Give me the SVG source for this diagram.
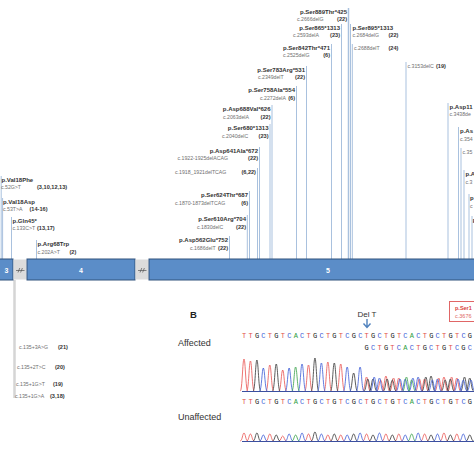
<svg xmlns="http://www.w3.org/2000/svg" width="474" height="474" viewBox="0 0 474 474">
<style>
.p{font:bold 6px "Liberation Sans",Arial,sans-serif;fill:#333}
.c{font:5.2px "Liberation Sans",Arial,sans-serif;fill:#707070}
.r{font:bold 5.6px "Liberation Sans",Arial,sans-serif;fill:#333}
.e{text-anchor:end}
.ln line{stroke:#a9c1de;stroke-width:1}
.ex{fill:#5b8dc8;stroke:#30527c;stroke-width:1}
.gap{fill:#dcdcdc}
.en{font:bold 7px "Liberation Sans",Arial,sans-serif;fill:#fff;text-anchor:middle}
.brk{stroke:#555;stroke-width:0.7;fill:none}
.seq{font:7px "Liberation Mono",monospace;letter-spacing:2.25px}
.sT{fill:#e2504a}.sG{fill:#222}.sC{fill:#3b5bd6}.sA{fill:#2e9e3e}
.pk path{fill:none;stroke-width:0.8}
.kT{stroke:#e8524f}.kG{stroke:#333}.kC{stroke:#3b5bd6}.kA{stroke:#36a046}
.lab{font:9px "Liberation Sans",Arial,sans-serif;fill:#333}
.red{fill:#d9413a}
</style>
<rect width="474" height="474" fill="#fff"/>

<g id="connectors" class="ln">
<line x1="1.2" y1="176" x2="1.2" y2="259"/>
<line x1="2.6" y1="198" x2="2.6" y2="259"/>
<line x1="11.5" y1="217" x2="11.5" y2="259"/>
<line x1="36.5" y1="240" x2="36.5" y2="259"/>
<line x1="229.5" y1="236" x2="229.5" y2="259"/>
<line x1="247.3" y1="215" x2="247.3" y2="259"/>
<line x1="249.5" y1="191" x2="249.5" y2="259"/>
<line x1="257.5" y1="168" x2="257.5" y2="259"/>
<line x1="259.5" y1="147" x2="259.5" y2="259"/>
<line x1="270" y1="124" x2="270" y2="259"/>
<line x1="272" y1="105" x2="272" y2="259"/>
<line x1="296.5" y1="86" x2="296.5" y2="259"/>
<line x1="306.5" y1="66" x2="306.5" y2="259"/>
<line x1="331.5" y1="44" x2="331.5" y2="259"/>
<line x1="341.5" y1="24" x2="341.5" y2="259"/>
<line x1="348.5" y1="8" x2="348.5" y2="259" style="stroke-width:1.5"/>
<line x1="350.5" y1="24" x2="350.5" y2="259"/>
<line x1="352.3" y1="44" x2="352.3" y2="259"/>
<line x1="406" y1="62" x2="406" y2="259"/>
<line x1="448" y1="103" x2="448" y2="259"/>
<line x1="458.5" y1="127" x2="458.5" y2="259"/>
<line x1="461" y1="148" x2="461" y2="259"/>
<line x1="464" y1="170" x2="464" y2="259"/>
<line x1="469" y1="194" x2="469" y2="259"/>
<line x1="472" y1="216" x2="472" y2="259"/>
<line x1="14.5" y1="280" x2="14.5" y2="398" style="stroke:#d5d5d5;stroke-width:2.5"/>
</g>

<g id="exon3"><rect class="ex" x="-1" y="259" width="14" height="21"/><text class="en" x="6.5" y="272.5">3</text></g>
<g id="gap34"><rect class="gap" x="13.5" y="259.5" width="13" height="20"/><path class="brk" d="M16 270.5H24.5M18 272.5L19.8 268M20.6 272.5L22.4 268"/></g>
<g id="exon4"><rect class="ex" x="27" y="259" width="108" height="21"/><text class="en" x="81" y="272.5">4</text></g>
<g id="gap45"><rect class="gap" x="135.5" y="259.5" width="13" height="20"/><path class="brk" d="M138 270.5H146.5M140 272.5L141.8 268M142.6 272.5L144.4 268"/></g>
<g id="exon5"><rect class="ex" x="149" y="259" width="330" height="21"/><text class="en" x="328" y="272.5">5</text></g>

<g id="m-val18phe"><text class="p" x="1.5" y="182">p.Val18Phe</text><text class="c" x="1" y="189">c.52G&gt;T</text><text class="r" x="37" y="189">(3,10,12,13)</text></g>
<g id="m-val18asp"><text class="p" x="3" y="204">p.Val18Asp</text><text class="c" x="3" y="211">c.53T&gt;A</text><text class="r" x="29.5" y="211">(14-16)</text></g>
<g id="m-gln45"><text class="p" x="12.5" y="223">p.Gln45*</text><text class="c" x="12.5" y="230">c.133C&gt;T</text><text class="r" x="37" y="230">(13,17)</text></g>
<g id="m-arg68trp"><text class="p" x="37.5" y="246">p.Arg68Trp</text><text class="c" x="37.5" y="253.5">c.202A&gt;T</text><text class="r" x="69.5" y="253.5">(2)</text></g>

<g id="m-splice1"><text class="c" x="19" y="349">c.135+3A&gt;G</text><text class="r" x="58" y="349">(21)</text></g>
<g id="m-splice2"><text class="c" x="17" y="369">c.135+2T&gt;C</text><text class="r" x="55" y="369">(20)</text></g>
<g id="m-splice3"><text class="c" x="16" y="386">c.135+1G&gt;T</text><text class="r" x="53" y="386">(19)</text></g>
<g id="m-splice4"><text class="c" x="15" y="398">c.135+1G&gt;A</text><text class="r" x="50" y="398">(3,18)</text></g>

<g id="m-ser889"><text class="p e" x="347" y="14">p.Ser889Thr*425</text><text class="c" x="297" y="21">c.2666delG</text><text class="r e" x="347" y="21">(22)</text></g>
<g id="m-ser865"><text class="p e" x="340" y="30">p.Ser865*1313</text><text class="c" x="293" y="37">c.2593delA</text><text class="r e" x="340" y="37">(23)</text></g>
<g id="m-ser895"><text class="p" x="352.5" y="30">p.Ser895*1313</text><text class="c" x="352.5" y="37">c.2684delG</text><text class="r" x="388.5" y="37">(22)</text></g>
<g id="m-2688"><text class="c" x="354" y="50">c.2688delT</text><text class="r" x="388.5" y="50">(24)</text></g>
<g id="m-ser842"><text class="p e" x="330" y="50">p.Ser842Thr*471</text><text class="c" x="283" y="57">c.2525delG</text><text class="r e" x="330" y="57">(6)</text></g>
<g id="m-3153"><text class="c" x="407.5" y="68">c.3153delC</text><text class="r" x="436" y="68">(19)</text></g>
<g id="m-ser783"><text class="p e" x="305" y="72">p.Ser783Arg*531</text><text class="c" x="258" y="79">c.2349delT</text><text class="r e" x="305" y="79">(22)</text></g>
<g id="m-ser758"><text class="p e" x="295" y="92">p.Ser758Ala*554</text><text class="c" x="260" y="100">c.2272delA</text><text class="r e" x="295" y="100">(6)</text></g>
<g id="m-asp688"><text class="p e" x="270.5" y="111">p.Asp688Val*626</text><text class="c" x="223" y="119">c.2063delA</text><text class="r e" x="270.5" y="119">(22)</text></g>
<g id="m-ser680"><text class="p e" x="268.5" y="130">p.Ser680*1313</text><text class="c" x="222" y="138">c.2040delC</text><text class="r e" x="268.5" y="138">(23)</text></g>
<g id="m-asp641"><text class="p e" x="258" y="153">p.Asp641Ala*672</text><text class="c" x="177.5" y="160">c.1922-1925delACAG</text><text class="r e" x="258" y="160">(22)</text></g>
<g id="m-1918"><text class="c" x="175" y="174">c.1918_1921delTCAG</text><text class="r e" x="256" y="174">(6,22)</text></g>
<g id="m-ser624"><text class="p e" x="248" y="197">p.Ser624Thr*687</text><text class="c" x="175" y="205">c.1870-1873delTCAG</text><text class="r e" x="248" y="205">(6)</text></g>
<g id="m-ser610"><text class="p e" x="246" y="221">p.Ser610Arg*704</text><text class="c" x="197" y="229">c.1830delC</text><text class="r e" x="246" y="229">(22)</text></g>
<g id="m-asp562"><text class="p e" x="228" y="242">p.Asp562Glu*752</text><text class="c" x="190" y="250">c.1686delT</text><text class="r e" x="228" y="250">(22)</text></g>

<g id="m-r1"><text class="p" x="449.5" y="109">p.Asp11</text><text class="c" x="449.5" y="116">c.3438de</text></g>
<g id="m-r2"><text class="p" x="460" y="133">p.As</text><text class="c" x="460" y="141">c.354</text></g>
<g id="m-r3"><text class="c" x="462.5" y="154">c.35</text></g>
<g id="m-r4"><text class="p" x="465.5" y="176">p.A</text><text class="c" x="465.5" y="184">c.3</text></g>
<g id="m-r5"><text class="p" x="470" y="200">p</text><text class="c" x="470" y="208">c</text></g>
<g id="m-r6"><text class="p" x="472.8" y="222">p</text></g>

<g id="panelB">
<text x="190" y="318" style="font:bold 9.5px 'Liberation Sans',Arial,sans-serif;fill:#222">B</text>
<text class="lab" x="178" y="345.5">Affected</text>
<text class="lab" x="178" y="420">Unaffected</text>
</g>

<g id="delT">
<text x="367" y="316.5" text-anchor="middle" style="font:8px 'Liberation Sans',Arial,sans-serif;fill:#333">Del T</text>
<path d="M367 319V327.5M363.5 323.5L367 327.5L370.5 323.5" fill="none" stroke="#4f81bd" stroke-width="1.4"/>
</g>

<g id="mutbox">
<rect x="449.5" y="301.5" width="30" height="20" fill="#fff" stroke="#e06666" stroke-width="1"/>
<text x="455" y="310" style="font:bold 5.5px 'Liberation Sans',Arial,sans-serif" class="red">p.Ser1</text>
<text x="455" y="317.5" style="font:5.5px 'Liberation Sans',Arial,sans-serif;fill:#e06666">c.3676</text>
</g>

<g id="seq-affected-1"><text class="seq" x="242" y="338"><tspan class="sT">T</tspan><tspan class="sT">T</tspan><tspan class="sG">G</tspan><tspan class="sC">C</tspan><tspan class="sT">T</tspan><tspan class="sG">G</tspan><tspan class="sT">T</tspan><tspan class="sC">C</tspan><tspan class="sA">A</tspan><tspan class="sC">C</tspan><tspan class="sT">T</tspan><tspan class="sG">G</tspan><tspan class="sC">C</tspan><tspan class="sT">T</tspan><tspan class="sG">G</tspan><tspan class="sT">T</tspan><tspan class="sC">C</tspan><tspan class="sG">G</tspan><tspan class="sC">C</tspan><tspan class="sT">T</tspan><tspan class="sG">G</tspan><tspan class="sC">C</tspan><tspan class="sT">T</tspan><tspan class="sG">G</tspan><tspan class="sT">T</tspan><tspan class="sC">C</tspan><tspan class="sA">A</tspan><tspan class="sC">C</tspan><tspan class="sT">T</tspan><tspan class="sG">G</tspan><tspan class="sC">C</tspan><tspan class="sT">T</tspan><tspan class="sG">G</tspan><tspan class="sT">T</tspan><tspan class="sC">C</tspan><tspan class="sG">G</tspan></text></g>
<g id="seq-affected-2"><text class="seq" x="364.55" y="350"><tspan class="sG">G</tspan><tspan class="sC">C</tspan><tspan class="sT">T</tspan><tspan class="sG">G</tspan><tspan class="sT">T</tspan><tspan class="sC">C</tspan><tspan class="sA">A</tspan><tspan class="sC">C</tspan><tspan class="sT">T</tspan><tspan class="sG">G</tspan><tspan class="sC">C</tspan><tspan class="sT">T</tspan><tspan class="sG">G</tspan><tspan class="sT">T</tspan><tspan class="sC">C</tspan><tspan class="sG">G</tspan><tspan class="sC">C</tspan></text></g>
<g id="seq-unaffected"><text class="seq" x="242" y="404"><tspan class="sT">T</tspan><tspan class="sT">T</tspan><tspan class="sG">G</tspan><tspan class="sC">C</tspan><tspan class="sT">T</tspan><tspan class="sG">G</tspan><tspan class="sT">T</tspan><tspan class="sC">C</tspan><tspan class="sA">A</tspan><tspan class="sC">C</tspan><tspan class="sT">T</tspan><tspan class="sG">G</tspan><tspan class="sC">C</tspan><tspan class="sT">T</tspan><tspan class="sG">G</tspan><tspan class="sT">T</tspan><tspan class="sC">C</tspan><tspan class="sG">G</tspan><tspan class="sC">C</tspan><tspan class="sT">T</tspan><tspan class="sG">G</tspan><tspan class="sC">C</tspan><tspan class="sT">T</tspan><tspan class="sG">G</tspan><tspan class="sT">T</tspan><tspan class="sC">C</tspan><tspan class="sA">A</tspan><tspan class="sC">C</tspan><tspan class="sT">T</tspan><tspan class="sG">G</tspan><tspan class="sC">C</tspan><tspan class="sT">T</tspan><tspan class="sG">G</tspan><tspan class="sT">T</tspan><tspan class="sC">C</tspan><tspan class="sG">G</tspan></text></g>

<g id="chrom-affected" class="pk">
<path class="kT" d="M240.2 391c2.1 0 2.4-32 3.8-32s1.7 32 3.8 32M246.65 391c2.1 0 2.4-30 3.8-30s1.7 30 3.8 30M266 391c2.1 0 2.4-26 3.8-26s1.7 26 3.8 26M278.9 391c2.1 0 2.4-21 3.8-21s1.7 21 3.8 21M304.7 391c2.1 0 2.4-26 3.8-26s1.7 26 3.8 26M324.05 391c2.1 0 2.4-29 3.8-29s1.7 29 3.8 29M336.95 391c2.1 0 2.4-27 3.8-27s1.7 27 3.8 27M362.75 391c2.1 0 2.4-14 3.8-14s1.7 14 3.8 14M376.85 391c2.1 0 2.4-11 3.8-11s1.7 11 3.8 11M382.1 391c2.1 0 2.4-15 3.8-15s1.7 15 3.8 15M389.75 391c2.1 0 2.4-13 3.8-13s1.7 13 3.8 13M395 391c2.1 0 2.4-13 3.8-13s1.7 13 3.8 13M415.55 391c2.1 0 2.4-12 3.8-12s1.7 12 3.8 12M420.8 391c2.1 0 2.4-12 3.8-12s1.7 12 3.8 12M434.9 391c2.1 0 2.4-13 3.8-13s1.7 13 3.8 13M440.15 391c2.1 0 2.4-14 3.8-14s1.7 14 3.8 14M447.8 391c2.1 0 2.4-14 3.8-14s1.7 14 3.8 14M453.05 391c2.1 0 2.4-13 3.8-13s1.7 13 3.8 13"/>
<path class="kG" d="M253.1 391c2.1 0 2.4-31 3.8-31s1.7 31 3.8 31M272.45 391c2.1 0 2.4-27 3.8-27s1.7 27 3.8 27M311.15 391c2.1 0 2.4-33 3.8-33s1.7 33 3.8 33M330.5 391c2.1 0 2.4-28 3.8-28s1.7 28 3.8 28M349.85 391c2.1 0 2.4-18 3.8-18s1.7 18 3.8 18M363.95 391c2.1 0 2.4-12 3.8-12s1.7 12 3.8 12M369.2 391c2.1 0 2.4-12 3.8-12s1.7 12 3.8 12M383.3 391c2.1 0 2.4-12 3.8-12s1.7 12 3.8 12M388.55 391c2.1 0 2.4-11 3.8-11s1.7 11 3.8 11M422 391c2.1 0 2.4-14 3.8-14s1.7 14 3.8 14M427.25 391c2.1 0 2.4-15 3.8-15s1.7 15 3.8 15M441.35 391c2.1 0 2.4-11 3.8-11s1.7 11 3.8 11M446.6 391c2.1 0 2.4-12 3.8-12s1.7 12 3.8 12M460.7 391c2.1 0 2.4-14 3.8-14s1.7 14 3.8 14M465.95 391c2.1 0 2.4-13 3.8-13s1.7 13 3.8 13"/>
<path class="kC" d="M259.55 391c2.1 0 2.4-23 3.8-23s1.7 23 3.8 23M285.35 391c2.1 0 2.4-23 3.8-23s1.7 23 3.8 23M298.25 391c2.1 0 2.4-27 3.8-27s1.7 27 3.8 27M317.6 391c2.1 0 2.4-28 3.8-28s1.7 28 3.8 28M343.4 391c2.1 0 2.4-24 3.8-24s1.7 24 3.8 24M356.3 391c2.1 0 2.4-24 3.8-24s1.7 24 3.8 24M370.4 391c2.1 0 2.4-14 3.8-14s1.7 14 3.8 14M375.65 391c2.1 0 2.4-13 3.8-13s1.7 13 3.8 13M396.2 391c2.1 0 2.4-12 3.8-12s1.7 12 3.8 12M401.45 391c2.1 0 2.4-12 3.8-12s1.7 12 3.8 12M409.1 391c2.1 0 2.4-13 3.8-13s1.7 13 3.8 13M414.35 391c2.1 0 2.4-14 3.8-14s1.7 14 3.8 14M428.45 391c2.1 0 2.4-11 3.8-11s1.7 11 3.8 11M433.7 391c2.1 0 2.4-12 3.8-12s1.7 12 3.8 12M454.25 391c2.1 0 2.4-12 3.8-12s1.7 12 3.8 12M459.5 391c2.1 0 2.4-11 3.8-11s1.7 11 3.8 11M467.15 391c2.1 0 2.4-11 3.8-11s1.7 11 3.8 11"/>
<path class="kA" d="M291.8 391c2.1 0 2.4-24 3.8-24s1.7 24 3.8 24M402.65 391c2.1 0 2.4-14 3.8-14s1.7 14 3.8 14M407.9 391c2.1 0 2.4-11 3.8-11s1.7 11 3.8 11"/>
<line x1="242" y1="391.5" x2="474" y2="391.5" stroke="#3b4fa0" stroke-width="1.2"/>
</g>

<g id="chrom-unaffected" class="pk">
<path class="kT" d="M240.2 441c2.1 0 2.4-8 3.8-8s1.7 8 3.8 8M246.65 441c2.1 0 2.4-7 3.8-7s1.7 7 3.8 7M266 441c2.1 0 2.4-7 3.8-7s1.7 7 3.8 7M278.9 441c2.1 0 2.4-5 3.8-5s1.7 5 3.8 5M304.7 441c2.1 0 2.4-7 3.8-7s1.7 7 3.8 7M324.05 441c2.1 0 2.4-6 3.8-6s1.7 6 3.8 6M336.95 441c2.1 0 2.4-6 3.8-6s1.7 6 3.8 6M362.75 441c2.1 0 2.4-7 3.8-7s1.7 7 3.8 7M382.1 441c2.1 0 2.4-7 3.8-7s1.7 7 3.8 7M395 441c2.1 0 2.4-7 3.8-7s1.7 7 3.8 7M420.8 441c2.1 0 2.4-7 3.8-7s1.7 7 3.8 7M440.15 441c2.1 0 2.4-8 3.8-8s1.7 8 3.8 8M453.05 441c2.1 0 2.4-7 3.8-7s1.7 7 3.8 7"/>
<path class="kG" d="M253.1 441c2.1 0 2.4-8 3.8-8s1.7 8 3.8 8M272.45 441c2.1 0 2.4-6 3.8-6s1.7 6 3.8 6M311.15 441c2.1 0 2.4-9 3.8-9s1.7 9 3.8 9M330.5 441c2.1 0 2.4-7 3.8-7s1.7 7 3.8 7M349.85 441c2.1 0 2.4-7 3.8-7s1.7 7 3.8 7M369.2 441c2.1 0 2.4-6 3.8-6s1.7 6 3.8 6M388.55 441c2.1 0 2.4-6 3.8-6s1.7 6 3.8 6M427.25 441c2.1 0 2.4-6 3.8-6s1.7 6 3.8 6M446.6 441c2.1 0 2.4-6 3.8-6s1.7 6 3.8 6M465.95 441c2.1 0 2.4-6 3.8-6s1.7 6 3.8 6"/>
<path class="kC" d="M259.55 441c2.1 0 2.4-6 3.8-6s1.7 6 3.8 6M285.35 441c2.1 0 2.4-7 3.8-7s1.7 7 3.8 7M298.25 441c2.1 0 2.4-8 3.8-8s1.7 8 3.8 8M317.6 441c2.1 0 2.4-7 3.8-7s1.7 7 3.8 7M343.4 441c2.1 0 2.4-6 3.8-6s1.7 6 3.8 6M356.3 441c2.1 0 2.4-8 3.8-8s1.7 8 3.8 8M375.65 441c2.1 0 2.4-8 3.8-8s1.7 8 3.8 8M401.45 441c2.1 0 2.4-6 3.8-6s1.7 6 3.8 6M414.35 441c2.1 0 2.4-8 3.8-8s1.7 8 3.8 8M433.7 441c2.1 0 2.4-7 3.8-7s1.7 7 3.8 7M459.5 441c2.1 0 2.4-7 3.8-7s1.7 7 3.8 7"/>
<path class="kA" d="M291.8 441c2.1 0 2.4-6 3.8-6s1.7 6 3.8 6M407.9 441c2.1 0 2.4-7 3.8-7s1.7 7 3.8 7"/>
<line x1="242" y1="441.5" x2="474" y2="441.5" stroke="#3b4fa0" stroke-width="1.2"/>
</g>
</svg>
